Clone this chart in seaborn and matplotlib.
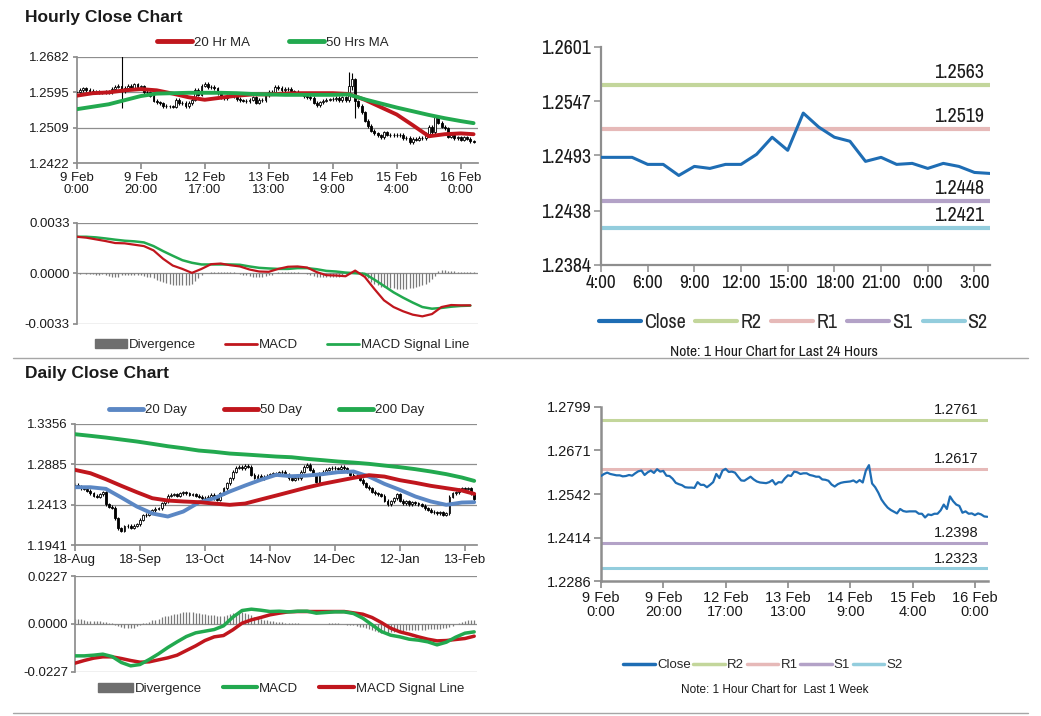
import numpy as np
import matplotlib
matplotlib.use('Agg')
import matplotlib.pyplot as plt
import seaborn as sns
from matplotlib import font_manager
from matplotlib.font_manager import FontProperties
from matplotlib.lines import Line2D
from matplotlib.patches import Patch

# hourly closes, 9 Feb 0:00 -> 16 Feb ~4:00, one value per hour
hourly_close = [
    1.2595, 1.2601, 1.2605, 1.2601, 1.2599, 1.2597, 1.2597, 1.2594, 1.2595, 1.2598,
    1.2596, 1.2603, 1.2609, 1.2611, 1.2598, 1.2606, 1.2611, 1.2604, 1.2615, 1.2608,
    1.2610, 1.2596, 1.2595, 1.2587, 1.2575, 1.2571, 1.2568, 1.2562, 1.2561, 1.2561,
    1.2560, 1.2577, 1.2569, 1.2569, 1.2562, 1.2569, 1.2577, 1.2601, 1.2589, 1.2611,
    1.2616, 1.2607, 1.2608, 1.2605, 1.2593, 1.2582, 1.2581, 1.2587, 1.2593, 1.2585,
    1.2579, 1.2576, 1.2575, 1.2574, 1.2577, 1.2583, 1.2570, 1.2577, 1.2576, 1.2588,
    1.2597, 1.2595, 1.2608, 1.2606, 1.2601, 1.2603, 1.2603, 1.2598, 1.2596, 1.2593,
    1.2593, 1.2585, 1.2584, 1.2581, 1.2570, 1.2564, 1.2571, 1.2575, 1.2577, 1.2578,
    1.2579, 1.2582, 1.2576, 1.2583, 1.2576, 1.2611, 1.2627, 1.2573, 1.2562, 1.2546,
    1.2526, 1.2513, 1.2502, 1.2495, 1.2490, 1.2485, 1.2498, 1.2492, 1.2490,
    1.2491, 1.2491, 1.2491, 1.2484, 1.2484, 1.2473, 1.2482, 1.2480, 1.2484, 1.2484,
    1.2494, 1.2511, 1.2498, 1.2535, 1.2521, 1.2511, 1.2507, 1.2487, 1.2491, 1.2484,
    1.2485, 1.2480, 1.2485, 1.2482, 1.2476, 1.2475,
]
hourly_ticks = [0, 20, 40, 60, 80, 100, 120]
hourly_tick_labels = ['9 Feb\n0:00', '9 Feb\n20:00', '12 Feb\n17:00', '13 Feb\n13:00',
                      '14 Feb\n9:00', '15 Feb\n4:00', '16 Feb\n0:00']
# long wicks seen on the hourly candles
spike_idx = [14, 85, 86, 87]
spike_high = [1.2684, 1.2645, 1.2643, 1.2590]
spike_low = [1.2558, 1.2588, 1.2600, 1.2532]

ma_hourly_x = [0, 5, 10, 15, 20, 25, 30, 35, 40, 45, 50, 55, 60, 65, 70, 75, 80, 85,
               90, 95, 100, 105, 110, 115, 120, 124]
ma20_hourly = [1.2587, 1.2593, 1.2595, 1.2600, 1.2603, 1.2600, 1.2592, 1.2583, 1.2577,
               1.2582, 1.2587, 1.2590, 1.2590, 1.2592, 1.2593, 1.2593, 1.2593, 1.2591,
               1.2577, 1.2559, 1.2541, 1.2515, 1.2488, 1.2493, 1.2495, 1.2493]
ma50_hourly = [1.2554, 1.2560, 1.2566, 1.2576, 1.2586, 1.2592, 1.2593, 1.2594, 1.2594,
               1.2594, 1.2593, 1.2591, 1.2590, 1.2589, 1.2589, 1.2589, 1.2589, 1.2590,
               1.2578, 1.2568, 1.2558, 1.2549, 1.2540, 1.2532, 1.2525, 1.2520]

macd_hourly_x = list(range(0, 124, 3))
macd_hourly = [0.00238, 0.00232, 0.00221, 0.00210, 0.00197, 0.00195, 0.00186, 0.00177,
               0.00149, 0.00094, 0.00050, 0.00028, 0.00002, 0.00028, 0.00059, 0.00063,
               0.00052, 0.00044, 0.00024, 0.00011, 0.00009, 0.00028, 0.00042, 0.00044,
               0.00037, 0.00007, -0.00013, -0.00015, -0.00020, 0.00017, -0.00024,
               -0.00103, -0.00177, -0.00221, -0.00249, -0.00271, -0.00282, -0.00267,
               -0.00221, -0.00208, -0.00210, -0.00210]
signal_hourly = [0.00238, 0.00238, 0.00234, 0.00227, 0.00219, 0.00212, 0.00208, 0.00201,
                 0.00177, 0.00144, 0.00114, 0.00085, 0.00068, 0.00057, 0.00057, 0.00057,
                 0.00057, 0.00055, 0.00044, 0.00035, 0.00031, 0.00028, 0.00028, 0.00033,
                 0.00033, 0.00026, 0.00015, 0.00011, 0.00004, 0.00000, -0.00004,
                 -0.00042, -0.00083, -0.00125, -0.00160, -0.00192, -0.00221, -0.00232,
                 -0.00227, -0.00219, -0.00214, -0.00212]
# divergence histogram, one bar per hour
div_hourly = [
    -0.00002, -0.00003, -0.00002, -0.00004, -0.00005, -0.00008, -0.00009, -0.00010,
    -0.00008, -0.00012, -0.00020, -0.00025, -0.00026, -0.00022, -0.00012, -0.00010,
    -0.00011, -0.00012, -0.00009, -0.00011, -0.00013, -0.00016, -0.00022, -0.00025,
    -0.00030, -0.00042, -0.00048, -0.00058, -0.00064, -0.00070, -0.00074, -0.00076,
    -0.00078, -0.00080, -0.00079, -0.00078, -0.00072, -0.00052, -0.00031, -0.00012,
    0.00002, 0.00004, 0.00006, 0.00008, 0.00009, 0.00010, 0.00009, 0.00008, 0.00007,
    0.00005, 0.00002, -0.00006, -0.00010, -0.00014, -0.00020, -0.00024, -0.00025,
    -0.00024, -0.00022, -0.00020, -0.00015, -0.00010, 0.00004, 0.00007, 0.00009,
    0.00010, 0.00010, 0.00009, 0.00008, 0.00006, 0.00003, -0.00002, -0.00006, -0.00012,
    -0.00018, -0.00022, -0.00024, -0.00025, -0.00026, -0.00027, -0.00026, -0.00025,
    -0.00022, -0.00016, -0.00008, -0.00004, -0.00002, 0.00002, 0.00005, 0.00007,
    -0.00020, -0.00034, -0.00055, -0.00068, -0.00080, -0.00087, -0.00091, -0.00094,
    -0.00097, -0.00100, -0.00103, -0.00104, -0.00103, -0.00101, -0.00098, -0.00094,
    -0.00090, -0.00084, -0.00076, -0.00068, -0.00055, -0.00040, -0.00018, 0.00012,
    0.00020, 0.00019, 0.00016, 0.00014, 0.00012, 0.00010, 0.00008, 0.00007, 0.00006,
    0.00006, 0.00005,
]

# last 24 hours panel
last24_labels = ['4:00', '6:00', '9:00', '12:00', '15:00', '18:00', '21:00', '0:00', '3:00']
pivot_names = ['R2', 'R1', 'S1', 'S2']
pivot_24h = [1.2563, 1.2519, 1.2448, 1.2421]
pivot_week = [1.2761, 1.2617, 1.2398, 1.2323]

# daily closes, 18 Aug -> 16 Feb
daily_close = [
    1.2645, 1.2625, 1.2606, 1.2598, 1.2575, 1.2548, 1.2520, 1.2509, 1.2536, 1.2559,
    1.2420, 1.2392, 1.2381, 1.2257, 1.2140, 1.2109, 1.2160, 1.2171, 1.2148, 1.2171,
    1.2187, 1.2237, 1.2288, 1.2295, 1.2326, 1.2350, 1.2365, 1.2373, 1.2431, 1.2451,
    1.2520, 1.2528, 1.2536, 1.2520, 1.2544, 1.2559, 1.2548, 1.2528, 1.2536, 1.2520,
    1.2509, 1.2489, 1.2497, 1.2509, 1.2528, 1.2489, 1.2470, 1.2548, 1.2606, 1.2664,
    1.2722, 1.2800, 1.2846, 1.2858, 1.2838, 1.2869, 1.2858, 1.2761, 1.2730, 1.2753,
    1.2722, 1.2741, 1.2753, 1.2769, 1.2780, 1.2769, 1.2792, 1.2800, 1.2769, 1.2722,
    1.2703, 1.2730, 1.2722, 1.2800, 1.2858, 1.2877, 1.2819, 1.2761, 1.2683, 1.2780,
    1.2800, 1.2819, 1.2838, 1.2846, 1.2838, 1.2831, 1.2858, 1.2838, 1.2800, 1.2761,
    1.2741, 1.2753, 1.2703, 1.2664, 1.2625, 1.2606, 1.2567, 1.2548, 1.2536, 1.2520,
    1.2458, 1.2420, 1.2451, 1.2489, 1.2536, 1.2458, 1.2431, 1.2451, 1.2420, 1.2443,
    1.2431, 1.2420, 1.2404, 1.2373, 1.2354, 1.2334, 1.2326, 1.2315, 1.2326, 1.2295,
    1.2315, 1.2509, 1.2548, 1.2559, 1.2586, 1.2606, 1.2598, 1.2606, 1.2548, 1.2480,
]
daily_ticks = [0, 21, 42, 63, 84, 105, 126]
daily_tick_labels = ['18-Aug', '18-Sep', '13-Oct', '14-Nov', '14-Dec', '12-Jan', '13-Feb']

ma_daily_x = [0, 5, 10, 15, 20, 25, 30, 35, 40, 45, 50, 55, 60, 65, 70, 75, 80, 85, 90,
              95, 100, 105, 110, 115, 120, 125, 129]
ma20_daily = [1.2617, 1.2617, 1.2598, 1.2497, 1.2392, 1.2311, 1.2276, 1.2334, 1.2439,
              1.2489, 1.2567, 1.2637, 1.2703, 1.2761, 1.2745, 1.2753, 1.2769, 1.2792,
              1.2800, 1.2741, 1.2656, 1.2586, 1.2509, 1.2451, 1.2412, 1.2439, 1.2443]
ma50_daily = [1.2819, 1.2780, 1.2710, 1.2633, 1.2559, 1.2489, 1.2462, 1.2451, 1.2443,
              1.2427, 1.2412, 1.2427, 1.2474, 1.2520, 1.2567, 1.2614, 1.2656, 1.2691,
              1.2726, 1.2757, 1.2741, 1.2699, 1.2668, 1.2633, 1.2606, 1.2579, 1.2540]
ma200_daily = [1.3234, 1.3215, 1.3195, 1.3172, 1.3149, 1.3122, 1.3094, 1.3071, 1.3044,
               1.3029, 1.3009, 1.2998, 1.2986, 1.2974, 1.2966, 1.2947, 1.2932, 1.2916,
               1.2904, 1.2889, 1.2869, 1.2850, 1.2827, 1.2800, 1.2769, 1.2730, 1.2691]

macd_daily_x = list(range(0, 130, 3))
macd_daily = [-0.01519, -0.01519, -0.01487, -0.01439, -0.01550, -0.01835, -0.01993,
              -0.01930, -0.01692, -0.01424, -0.01123, -0.00854, -0.00601, -0.00427,
              -0.00348, -0.00269, -0.00095, 0.00316, 0.00633, 0.00696, 0.00649, 0.00585,
              0.00601, 0.00569, 0.00601, 0.00601, 0.00506, 0.00538, 0.00569, 0.00569,
              0.00490, 0.00269, -0.00047, -0.00364, -0.00538, -0.00617, -0.00728,
              -0.00775, -0.00854, -0.00997, -0.00870, -0.00633, -0.00443, -0.00380]
signal_daily = [-0.01867, -0.01740, -0.01629, -0.01566, -0.01566, -0.01645, -0.01740,
                -0.01819, -0.01803, -0.01708, -0.01613, -0.01487, -0.01265, -0.01044,
                -0.00791, -0.00617, -0.00554, -0.00285, 0.00032, 0.00190, 0.00301,
                0.00427, 0.00506, 0.00569, 0.00585, 0.00585, 0.00585, 0.00585, 0.00585,
                0.00585, 0.00522, 0.00459, 0.00301, 0.00063, -0.00206, -0.00380,
                -0.00490, -0.00617, -0.00728, -0.00807, -0.00791, -0.00743, -0.00696,
                -0.00585]
# divergence histogram, one bar per day
div_daily = [
    0.0023, 0.0022, 0.0021, 0.0017, 0.0015, 0.0014, 0.0014, 0.0015, 0.0013, 0.0011,
    0.0007, 0.0005, 0.0002, -0.0006, -0.0011, -0.0017, -0.0020, -0.0021, -0.0020, -0.0018,
    -0.0012, -0.0006, 0.0002, 0.0006, 0.0010, 0.0016, 0.0020, 0.0025, 0.0031, 0.0035,
    0.0039, 0.0043, 0.0046, 0.0049, 0.0052, 0.0054, 0.0055, 0.0055, 0.0054, 0.0053,
    0.0051, 0.0048, 0.0046, 0.0044, 0.0041, 0.0040, 0.0039, 0.0037, 0.0036, 0.0040,
    0.0046, 0.0050, 0.0053, 0.0055, 0.0055, 0.0052, 0.0046, 0.0040, 0.0033, 0.0026,
    0.0022, 0.0019, 0.0017, 0.0015, 0.0013, 0.0011, 0.0010, 0.0008, 0.0006, 0.0004,
    0.0003, 0.0003, 0.0002, 0.0001, 0.0000, -0.0001, -0.0002, -0.0003, -0.0002, -0.0001,
    0.0000, 0.0001, 0.0002, 0.0003, 0.0003, 0.0002, 0.0000, -0.0002, -0.0004, -0.0005,
    -0.0007, -0.0010, -0.0013, -0.0017, -0.0022, -0.0026, -0.0030, -0.0034, -0.0039, -0.0042,
    -0.0044, -0.0043, -0.0041, -0.0038, -0.0036, -0.0034, -0.0032, -0.0031, -0.0030, -0.0029,
    -0.0028, -0.0028, -0.0027, -0.0027, -0.0026, -0.0026, -0.0025, -0.0025, -0.0024, -0.0022,
    -0.0019, -0.0014, -0.0009, -0.0003, 0.0004, 0.0010, 0.0015, 0.0018, 0.0019, 0.0019,
]

sns.set_theme(style='white')
plt.rcParams['font.family'] = ['Liberation Sans', 'DejaVu Sans']
plt.rcParams['axes.unicode_minus'] = False

# the right-hand pivot charts use a condensed face in the original
narrow_path = None
for f in font_manager.fontManager.ttflist:
    if 'Narrow' in f.name and f.style == 'normal' and f.weight in (400, 'normal', 'regular'):
        narrow_path = f.fname
        break
if narrow_path is None:
    for f in font_manager.fontManager.ttflist:
        if f.stretch == 'condensed' and f.style == 'normal' and f.weight in (400, 'normal', 'regular'):
            narrow_path = f.fname
            break
if narrow_path:
    C_FONT, C_SCALE = FontProperties(fname=narrow_path), 1.2
else:
    C_FONT, C_SCALE = FontProperties(family='Liberation Sans'), 1.0


def cfont(size):
    fp = C_FONT.copy()
    fp.set_size(size * C_SCALE)
    return fp


GRAY = '#8E8E8E'
TXT = '#1A1A1A'
RED = '#C0161D'
GREEN = '#22A94F'
MA_BLUE = '#5B87C4'
CLOSE_BLUE = '#1E6DB4'
DIV_GRAY = '#7A7A7A'
PIVOT_COLORS = ['#C3D69B', '#E6B9B8', '#B3A2C7', '#93CDDD']

fig = plt.figure(figsize=(10.41, 7.16), dpi=100)


def draw_candles(ax, close, pad, s_idx=(), s_high=(), s_low=()):
    close = np.asarray(close)
    x = np.arange(len(close))
    opens = np.r_[close[0], close[:-1]]
    high = np.maximum(opens, close) + pad
    low = np.minimum(opens, close) - pad
    for i, h, l in zip(s_idx, s_high, s_low):
        high[i] = max(high[i], h)
        low[i] = min(low[i], l)
    ax.vlines(x, low, high, color='black', lw=0.8, zorder=2)
    up = close >= opens
    ax.bar(x[up], (close - opens)[up], bottom=opens[up], width=0.6, color='white',
           edgecolor='black', lw=0.6, zorder=3)
    ax.bar(x[~up], (close - opens)[~up], bottom=opens[~up], width=0.6, color='black',
           edgecolor='black', lw=0.6, zorder=3)


def style_price(ax, yticks, xticks=None, xlabels=None):
    for s in ['top', 'right']:
        ax.spines[s].set_visible(False)
    ax.spines['left'].set_color(GRAY)
    ax.spines['bottom'].set_color(GRAY)
    ax.set_yticks(yticks)
    ax.set_yticklabels([f'{v:.4f}' for v in yticks], fontsize=9.5, color=TXT)
    ax.yaxis.grid(True, color=GRAY, lw=0.9)
    ax.set_axisbelow(True)
    ax.tick_params(axis='y', left=True, length=3, color=GRAY, pad=2)
    if xticks is not None:
        ax.set_xticks(xticks)
        ax.set_xticklabels(xlabels, fontsize=9.5, color=TXT, linespacing=1.0)
        ax.tick_params(axis='x', bottom=True, length=4, color=GRAY, pad=2)
    else:
        ax.set_xticks([])
        ax.spines['bottom'].set_visible(False)
    ax.set_xlabel('')
    ax.set_ylabel('')


def style_macd(ax, lim):
    style_price(ax, [-lim, 0.0, lim])
    ax.set_yticklabels([f'{-lim:.4f}', '0.0000', f'{lim:.4f}'], fontsize=9.5, color=TXT)
    ax.set_ylim(-lim, lim)


def legend(ax, handles, labels, cx, cy, size=9.5, hl=2.6, cs=2.0, prop=None):
    ax.legend(handles, labels, loc='center', bbox_to_anchor=(cx, cy),
              bbox_transform=fig.transFigure, ncol=len(labels), frameon=False,
              prop=prop if prop is not None else {'size': size}, handlelength=hl,
              handletextpad=0.15, columnspacing=cs, borderaxespad=0)


def style_pivot(ax, lw, fp=None, size=None):
    for s in ['top', 'right']:
        ax.spines[s].set_visible(False)
    for s in ['left', 'bottom']:
        ax.spines[s].set_color(GRAY)
        ax.spines[s].set_linewidth(lw)
    ax.tick_params(axis='both', length=5, width=lw * 0.7, color=GRAY,
                   labelcolor=TXT, pad=2, left=True, bottom=True)
    for lbl in ax.get_xticklabels() + ax.get_yticklabels():
        if fp is not None:
            lbl.set_fontproperties(fp)
        else:
            lbl.set_fontsize(size)
    ax.set_xlabel('')
    ax.set_ylabel('')


# ---------- hourly candles ----------
axA = fig.add_axes([0.0737, 0.7719, 0.3852, 0.1489])
draw_candles(axA, hourly_close, 0.0004, spike_idx, spike_high, spike_low)
sns.lineplot(x=ma_hourly_x, y=ma20_hourly, ax=axA, color=RED, lw=2.8, zorder=4, legend=False)
sns.lineplot(x=ma_hourly_x, y=ma50_hourly, ax=axA, color=GREEN, lw=2.8, zorder=5, legend=False)
axA.set_xlim(0, 125.3)
axA.set_ylim(1.2422, 1.2682)
style_price(axA, [1.2422, 1.2509, 1.2595, 1.2682], hourly_ticks, hourly_tick_labels)
legend(axA, [Line2D([], [], color=RED, lw=3.5), Line2D([], [], color=GREEN, lw=3.5)],
       ['20 Hr MA', '50 Hrs MA'], 0.262, 0.94, cs=3.0)

# ---------- hourly MACD ----------
axB = fig.add_axes([0.0737, 0.5479, 0.3852, 0.1411])
axB.vlines(range(len(div_hourly)), 0, div_hourly, color=DIV_GRAY, lw=0.9, zorder=2)
sns.lineplot(x=macd_hourly_x, y=macd_hourly, ax=axB, color=RED, lw=1.6, zorder=4, legend=False)
sns.lineplot(x=macd_hourly_x, y=signal_hourly, ax=axB, color=GREEN, lw=1.8, zorder=3, legend=False)
axB.set_xlim(0, 125.3)
style_macd(axB, 0.0033)
legend(axB, [Patch(color='#6E6E6E'), Line2D([], [], color=RED, lw=2), Line2D([], [], color=GREEN, lw=2)],
       ['Divergence', 'MACD', 'MACD Signal Line'], 0.271, 0.518, hl=2.4, cs=2.2)

# ---------- last 24 hours ----------
axC = fig.add_axes([0.5773, 0.6299, 0.3737, 0.3049])
last24 = hourly_close[-26:]
for v, c in zip(pivot_24h, PIVOT_COLORS):
    axC.axhline(v, color=c, lw=3, zorder=2)
    axC.annotate(f'{v:.4f}', xy=(24.6, v), xytext=(0, 2), textcoords='offset points',
                 ha='right', va='bottom', fontproperties=cfont(12), color=TXT)
sns.lineplot(x=list(range(len(last24))), y=last24, ax=axC, color=CLOSE_BLUE, lw=2.2, zorder=4, legend=False)
axC.set_xlim(0, 25)
axC.set_ylim(1.2384, 1.2601)
axC.set_xticks(list(range(0, 25, 3)))
axC.set_xticklabels(last24_labels)
axC.set_yticks([1.2384, 1.2438, 1.2493, 1.2547, 1.2601])
axC.set_yticklabels(['1.2384', '1.2438', '1.2493', '1.2547', '1.2601'])
style_pivot(axC, 1.6, fp=cfont(11.5))
for lbl in axC.get_yticklabels():
    lbl.set_fontproperties(cfont(12))
legend(axC, [Line2D([], [], color=CLOSE_BLUE, lw=3)] + [Line2D([], [], color=c, lw=3) for c in PIVOT_COLORS],
       ['Close'] + pivot_names, 0.762, 0.549, hl=2.1, cs=0.5, prop=cfont(12))
fig.text(0.743, 0.5084, 'Note: 1 Hour Chart for Last 24 Hours', ha='center', va='center',
         fontproperties=cfont(9.3), color=TXT)

# ---------- daily candles ----------
axD = fig.add_axes([0.0720, 0.2384, 0.3859, 0.1698])
draw_candles(axD, daily_close, 0.0018)
sns.lineplot(x=ma_daily_x, y=ma20_daily, ax=axD, color=MA_BLUE, lw=2.8, zorder=4, legend=False)
sns.lineplot(x=ma_daily_x, y=ma50_daily, ax=axD, color=RED, lw=2.8, zorder=5, legend=False)
sns.lineplot(x=ma_daily_x, y=ma200_daily, ax=axD, color=GREEN, lw=2.8, zorder=6, legend=False)
axD.set_xlim(0, 129.8)
axD.set_ylim(1.1941, 1.3356)
style_price(axD, [1.1941, 1.2413, 1.2885, 1.3356], daily_ticks, daily_tick_labels)
legend(axD, [Line2D([], [], color=c, lw=3.5) for c in (MA_BLUE, RED, GREEN)],
       ['20 Day', '50 Day', '200 Day'], 0.256, 0.427, cs=2.8)

# ---------- daily MACD ----------
axE = fig.add_axes([0.0720, 0.0619, 0.3859, 0.1336])
axE.vlines(range(len(div_daily)), 0, div_daily, color=DIV_GRAY, lw=0.9, zorder=2)
sns.lineplot(x=macd_daily_x, y=macd_daily, ax=axE, color=GREEN, lw=2.5, zorder=4, legend=False)
sns.lineplot(x=macd_daily_x, y=signal_daily, ax=axE, color=RED, lw=2.5, zorder=3, legend=False)
axE.set_xlim(0, 129.8)
style_macd(axE, 0.0227)
legend(axE, [Patch(color='#6E6E6E'), Line2D([], [], color=GREEN, lw=3), Line2D([], [], color=RED, lw=3)],
       ['Divergence', 'MACD', 'MACD Signal Line'], 0.27, 0.038, hl=2.6, cs=1.6)

# ---------- last week ----------
axF = fig.add_axes([0.5773, 0.1885, 0.3715, 0.2435])
for v, c in zip(pivot_week, PIVOT_COLORS):
    axF.axhline(v, color=c, lw=2.2, zorder=2)
    axF.annotate(f'{v:.4f}', xy=(121, v), xytext=(0, 2), textcoords='offset points',
                 ha='right', va='bottom', fontsize=10.5, color=TXT)
sns.lineplot(x=list(range(len(hourly_close))), y=hourly_close, ax=axF, color=CLOSE_BLUE,
             lw=1.6, zorder=4, legend=False)
axF.set_xlim(0, 124.1)
axF.set_ylim(1.2286, 1.2799)
axF.set_xticks(hourly_ticks)
axF.set_xticklabels(hourly_tick_labels, linespacing=1.0)
axF.set_yticks([1.2286, 1.2414, 1.2542, 1.2671, 1.2799])
axF.set_yticklabels(['1.2286', '1.2414', '1.2542', '1.2671', '1.2799'])
style_pivot(axF, 1.8, size=10.5)
legend(axF, [Line2D([], [], color=CLOSE_BLUE, lw=2.5)] + [Line2D([], [], color=c, lw=2.5) for c in PIVOT_COLORS],
       ['Close'] + pivot_names, 0.733, 0.071, size=9.5, hl=2.4, cs=0.2)
fig.text(0.744, 0.0363, 'Note: 1 Hour Chart for  Last 1 Week', ha='center', va='center',
         fontsize=8.5, color=TXT)

# ---------- titles and separators ----------
fig.text(0.024, 0.976, 'Hourly Close Chart', fontsize=12.5, fontweight='bold', va='center', color=TXT)
fig.text(0.024, 0.4777, 'Daily Close Chart', fontsize=12.5, fontweight='bold', va='center', color=TXT)
for y in (0.5, 0.0042):
    fig.add_artist(Line2D([0.0125, 0.9875], [y, y], transform=fig.transFigure, color='#A6A6A6', lw=1))

fig.savefig('out.png', dpi=100)
